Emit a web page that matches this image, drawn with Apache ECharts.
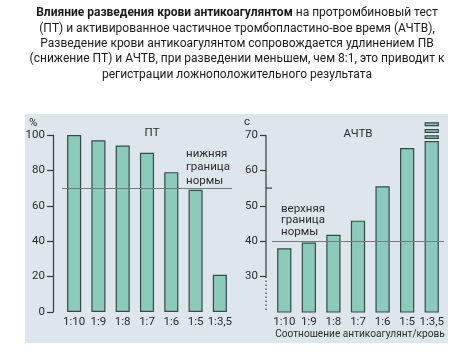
<!DOCTYPE html>
<html>
<head>
<meta charset="utf-8">
<script src="https://cdn.jsdelivr.net/npm/echarts@6/dist/echarts.min.js"></script>
<style>
html,body{margin:0;padding:0;background:#fff;}
#c{width:474px;height:355px;}
</style>
</head>
<body>
<div id="c"></div>
<script>
// ---- data ----
const categories = ['1:10', '1:9', '1:8', '1:7', '1:6', '1:5', '1:3,5'];
const ptValues = [100, 97, 94, 90, 79, 69, 21];          // ПТ, %
const apttValues = [38, 39.6, 41.8, 45.8, 55.5, 66.3, 68.3]; // АЧТВ, с
// "off-scale" indicator blocks stacked on top of the last АЧТВ bar (gap, block pairs, seconds)
const apttOverflowGap1 = ['-', '-', '-', '-', '-', '-', 0.6];
const apttOverflowBlock1 = ['-', '-', '-', '-', '-', '-', 1.0];
const apttOverflowGap2 = ['-', '-', '-', '-', '-', '-', 0.7];
const apttOverflowBlock2 = ['-', '-', '-', '-', '-', '-', 1.1];
const apttOverflowGap3 = ['-', '-', '-', '-', '-', '-', 0.8];
const apttOverflowBlock3 = ['-', '-', '-', '-', '-', '-', 1.1];
const ptTicks = [0, 20, 40, 60, 80, 100];
const apttTicks = [30, 40, 50, 60, 70];
const ptLowerNorm = 70;
const apttUpperNorm = 40;
const apttExtraTick = 55;
const xAxisTitle = 'Соотношение антикоагулянт/кровь';

const FONT = "Roboto,'Liberation Sans',sans-serif";
const FS = 11.5;
const TXT = '#2b2b2b';
const BAR = '#8ccabb';
const BORDER = '#3a4846';
const BG = '#dde6ea';

const chart = echarts.init(document.getElementById('c'), null, {renderer: 'canvas'});

const barStyle = {color: BAR, borderColor: BORDER, borderWidth: 1.2};
const normLine = (v) => ({
  silent: true, symbol: 'none', label: {show: false},
  lineStyle: {color: '#6e7c7b', width: 1, type: 'solid'},
  data: [{yAxis: v}]
});

function overflow(name, data, visible) {
  return {
    type: 'bar', name: name, xAxisIndex: 1, yAxisIndex: 1, stack: 'aptt',
    data: data, barWidth: '58%', clip: false, silent: true,
    itemStyle: visible ? barStyle : {color: 'rgba(0,0,0,0)', borderWidth: 0}
  };
}

const labelStyle = {fontSize: FS, color: TXT, fontFamily: FONT};

const option = {
  animation: false,
  grid: [
    {left: 62, top: 135, width: 170, height: 177},
    {left: 272, top: 135, width: 172, height: 177}
  ],
  xAxis: [
    {type: 'category', gridIndex: 0, data: categories,
     axisLine: {show: false}, axisTick: {show: false},
     axisLabel: Object.assign({margin: 4, interval: 0, hideOverlap: false}, labelStyle)},
    {type: 'category', gridIndex: 1, data: categories,
     axisLine: {show: false}, axisTick: {show: false},
     axisLabel: Object.assign({margin: 4, interval: 0, hideOverlap: false}, labelStyle)}
  ],
  yAxis: [
    {type: 'value', gridIndex: 0, min: 0, max: 100, interval: 20, offset: 9,
     splitLine: {show: false},
     axisLine: {show: true, lineStyle: {color: '#3a3a3a', width: 1.2}},
     axisTick: {show: true, length: 6, lineStyle: {color: '#3a3a3a', width: 1.2}, customValues: ptTicks},
     axisLabel: Object.assign({margin: 8, customValues: ptTicks}, labelStyle)},
    {type: 'value', gridIndex: 1, min: 20, max: 70, interval: 10, offset: 6,
     splitLine: {show: false},
     axisLine: {show: false},
     axisTick: {show: true, length: 6, lineStyle: {color: '#3a3a3a', width: 1.2}, customValues: apttTicks},
     axisLabel: Object.assign({margin: 8, customValues: apttTicks}, labelStyle)}
  ],
  series: [
    {type: 'bar', name: 'ПТ', xAxisIndex: 0, yAxisIndex: 0, data: ptValues,
     barWidth: '58%', itemStyle: barStyle, markLine: normLine(ptLowerNorm)},
    {type: 'bar', name: 'АЧТВ', xAxisIndex: 1, yAxisIndex: 1, stack: 'aptt', data: apttValues,
     barWidth: '58%', itemStyle: barStyle, markLine: normLine(apttUpperNorm)},
    overflow('g1', apttOverflowGap1, false),
    overflow('b1', apttOverflowBlock1, true),
    overflow('g2', apttOverflowGap2, false),
    overflow('b2', apttOverflowBlock2, true),
    overflow('g3', apttOverflowGap3, false),
    overflow('b3', apttOverflowBlock3, true)
  ]
};

const TF = "Roboto,'Liberation Sans',sans-serif";
const TS = 12;
const titleText =
  '{b|Влияние разведения крови антикоагулянтом} на протромбиновый тест\n' +
  '(ПТ) и активированное частичное тромбопластино-вое время (АЧТВ),\n' +
  'Разведение крови антикоагулянтом сопровождается удлинением ПВ\n' +
  '(снижение ПТ) и АЧТВ, при разведении меньшем, чем 8:1, это приводит к\n' +
  'регистрации ложноположительного результата';

const textFont = FS + 'px ' + FONT;
const staticGraphic = [
  {type: 'rect', id: 'bg', z: -10, shape: {x: 25, y: 114, width: 423, height: 229}, style: {fill: BG}},
  {type: 'text', id: 'title', x: 237, y: 5.5, style: {
    text: titleText, align: 'center', verticalAlign: 'top',
    fontSize: TS, fontFamily: TF, lineHeight: 15.4, fill: '#1a1a1a',
    rich: {b: {fontWeight: 'bold', fontSize: TS, fontFamily: TF, lineHeight: 15.4, fill: '#1a1a1a'}}
  }},
  {type: 'text', id: 'pct', x: 29, y: 117, style: {text: '%', font: textFont, fill: TXT}},
  {type: 'text', id: 'sec', x: 244, y: 116, style: {text: 'с', font: textFont, fill: TXT}},
  {type: 'text', id: 'pt', x: 152, y: 133, style: {text: 'ПТ', align: 'center', verticalAlign: 'middle', font: textFont, fill: TXT}},
  {type: 'text', id: 'aptt', x: 358, y: 134, style: {text: 'АЧТВ', align: 'center', verticalAlign: 'middle', font: textFont, fill: TXT}},
  {type: 'text', id: 'low', x: 186, y: 147.5, style: {text: 'нижняя\nграница\nнормы', font: textFont, lineHeight: 13.3, fill: TXT}},
  {type: 'text', id: 'up', x: 281, y: 203, style: {text: 'верхняя\nграница\nнормы', font: textFont, lineHeight: 11.7, fill: TXT}},
  {type: 'text', id: 'xname', x: 360, y: 334, scaleX: 0.88, style: {text: xAxisTitle, align: 'center', verticalAlign: 'middle', font: textFont, fill: TXT}}
];
option.graphic = staticGraphic;
chart.setOption(option);

// right-hand axis line: solid above 30 s, dotted (scale break) below, plus an inner tick at 55 s
const axisX = 272 - 6;
const yPix = (v) => chart.convertToPixel({yAxisIndex: 1}, v);
const axisGraphic = [
  {type: 'line', id: 'ax1', shape: {x1: axisX, y1: yPix(70), x2: axisX, y2: yPix(30)},
   style: {stroke: '#3a3a3a', lineWidth: 1.2}},
  {type: 'line', id: 'ax2', shape: {x1: axisX, y1: yPix(30), x2: axisX, y2: yPix(20)},
   style: {stroke: '#3a3a3a', lineWidth: 1.2, lineDash: [1.5, 2.5]}},
  {type: 'line', id: 'ax3', shape: {x1: axisX, y1: yPix(apttExtraTick), x2: axisX + 6, y2: yPix(apttExtraTick)},
   style: {stroke: '#3a3a3a', lineWidth: 1.2}}
];
chart.setOption({graphic: staticGraphic.concat(axisGraphic)});
</script>
</body>
</html>
